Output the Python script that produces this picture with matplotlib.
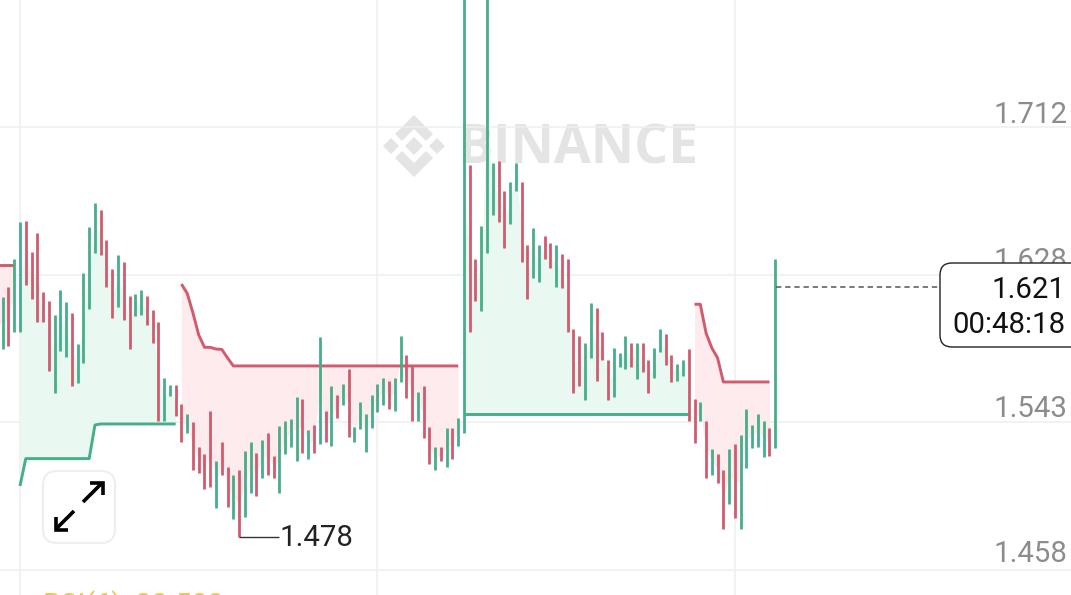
import matplotlib
matplotlib.use("Agg")
import matplotlib.pyplot as plt
from matplotlib.patches import FancyBboxPatch, Polygon
import numpy as np

plt.rcParams['font.family'] = ['Roboto', 'DejaVu Sans']

HIGHS = [1.6152,1.6213,1.6372,1.6583,1.6592,1.6414,1.6523,1.6182,1.6131,1.6050,
         1.6194,1.6123,1.6064,1.5882,1.6293,1.6554,1.6692,1.6653,1.6481,1.6313,
         1.6393,1.6353,1.6161,1.6171,1.6194,1.6161,1.6079,1.6012,1.5691,1.5649,
         1.5649,1.5540,1.5482,1.5439,1.5291,1.5253,1.5501,1.5212,1.5323,1.5180,
         1.5132,1.5161,1.5272,1.5323,1.5260,1.5333,1.5371,1.5241,1.5413,1.5442,
         1.5452,1.5581,1.5570,1.5390,1.5421,1.5922,1.5501,1.5643,1.5591,1.5653,
         1.5739,1.5409,1.5553,1.5480,1.5591,1.5653,1.5691,1.5672,1.5687,1.5932,
         1.5823,1.5763,1.5610,1.5643,1.5409,1.5291,1.5291,1.5400,1.5400,1.5461,
         1.8000,1.6911,1.6372,1.6561,1.8000,1.6921,1.6934,1.6764,1.6812,1.6925,
         1.6812,1.6452,1.6552,1.6452,1.6504,1.6462,1.6452,1.6402,1.6372,1.5970,
         1.5932,1.5891,1.6121,1.6092,1.5951,1.5792,1.5859,1.5831,1.5930,1.5891,
         1.5891,1.5891,1.5792,1.5859,1.5970,1.5941,1.5821,1.5769,1.5792,1.5853,
         1.5570,1.5551,1.5440,1.5281,1.5253,1.5161,1.5281,1.5310,1.5360,1.5511,
         1.5419,1.5482,1.5442,1.5402,1.6370]
LOWS = [1.5853,1.5872,1.5955,1.5951,1.6223,1.6142,1.6012,1.6012,1.5731,1.5604,
        1.5842,1.5811,1.5643,1.5662,1.5773,1.6083,1.6405,1.6395,1.6213,1.6032,
        1.6095,1.6022,1.5853,1.6045,1.6050,1.5993,1.5891,1.5444,1.5444,1.5586,
        1.5472,1.5323,1.5375,1.5161,1.5142,1.5050,1.5061,1.4941,1.5132,1.4950,
        1.4879,1.4778,1.4889,1.5030,1.5011,1.5113,1.5132,1.5113,1.5030,1.5251,
        1.5294,1.5212,1.5257,1.5222,1.5260,1.5310,1.5323,1.5300,1.5461,1.5534,
        1.5352,1.5323,1.5394,1.5262,1.5404,1.5492,1.5534,1.5511,1.5501,1.5664,
        1.5572,1.5442,1.5442,1.5343,1.5193,1.5161,1.5212,1.5180,1.5222,1.5300,
        1.5371,1.5955,1.6133,1.6073,1.6405,1.6624,1.6583,1.6433,1.6573,1.6764,
        1.6353,1.6144,1.6265,1.6242,1.6372,1.6322,1.6213,1.6204,1.5955,1.5601,
        1.5643,1.5562,1.5802,1.5672,1.5792,1.5562,1.5581,1.5754,1.5742,1.5754,
        1.5681,1.5722,1.5601,1.5691,1.5836,1.5763,1.5664,1.5673,1.5702,1.5442,
        1.5314,1.5442,1.5113,1.5132,1.5084,1.4824,1.4964,1.4884,1.4824,1.5170,
        1.5285,1.5294,1.5234,1.5243,1.5285]
DIRECTION = ("grggrrrrrg" "ggrggggrrr" "grrggrrrgg" "rrgrrrrgrr" "grggrgrrgg"
             "ggrgrgrgrg" "rggggggrgg" "rrgrrgrgrg" "grrgggrrgg" "rrggrrgrrr"
             "rggrrrgggr" "grrggrrggr" "rgrgrrgrgg" "gggrg")

TREND_A = [1.6337] * 3
TREND_B = [1.5069] + [1.5226] * 12 + [1.5419] + [1.5425] * 14
TREND_C = [1.6228, 1.6175, 1.6062, 1.5936, 1.5865, 1.5865, 1.5855, 1.5853, 1.5804] + [1.5758] * 40
TREND_D = [1.5482] * 40
TREND_E = [1.6112, 1.6112, 1.5947, 1.5861, 1.5804] + [1.5666] * 9
TREND_STARTS = [0, 3, 31, 80, 120]
TREND_KINDS = ["r", "g", "r", "g", "r"]

GRID_PRICES = [1.7130, 1.6280, 1.5436, 1.4587]
GRID_CANDLES = [3, 65, 127]
PRICE_LABELS = ["1.712", "1.628", "1.543", "1.458"]
LAST_PRICE = 1.6211
LOW_PRICE = 1.4778

GREEN, RED = "#45AE8A", "#D15B6E"
GFILL, RFILL = "#E9F9F2", "#FEEBEE"
GRIDC = "#EFEFEF"

fig = plt.figure(figsize=(10.71, 5.95), dpi=100)
ax = fig.add_axes([0, 0, 1, 1])
ax.set_xlim(-0.468, 185.3)
ax.set_ylim(1.44432, 1.78585)
ax.axis("off")

# pixel overlay for the interface furniture
ui = fig.add_axes([0, 0, 1, 1], zorder=5)
ui.set_xlim(0, 1071)
ui.set_ylim(595, 0)
ui.axis("off")
ui.patch.set_alpha(0)

ax.hlines(GRID_PRICES, -1, 186, color=GRIDC, lw=1.1, zorder=1)
ax.vlines(GRID_CANDLES, 1.44, 1.80, color=GRIDC, lw=1.1, zorder=1)

# watermark
wm = "#E4E4E4"
ax_wm = fig.add_axes([0, 0, 1, 1], zorder=-1)
ax_wm.set_xlim(0, 1071)
ax_wm.set_ylim(595, 0)
ax_wm.axis("off")
cx, cy = 414, 146
for pts in [[(0, -9), (9, 0), (0, 9), (-9, 0)],
            [(-31, 0), (-23, -8), (-15, 0), (-23, 8)],
            [(31, 0), (23, -8), (15, 0), (23, 8)],
            [(0, -31), (19, -12), (12, -5), (0, -17), (-12, -5), (-19, -12)],
            [(0, 31), (19, 12), (12, 5), (0, 17), (-12, 5), (-19, 12)]]:
    ax_wm.add_patch(Polygon([(cx + a, cy + b) for a, b in pts], closed=True, color=wm, lw=0))
ax_wm.text(457, 164, "BINANCE", fontsize=38.5, fontweight="bold", color=wm,
           ha="left", va="baseline", family=["Open Sans", "DejaVu Sans"])

hl2 = (np.array(HIGHS) + np.array(LOWS)) / 2
for start, kind, vals in zip(TREND_STARTS, TREND_KINDS,
                             [TREND_A, TREND_B, TREND_C, TREND_D, TREND_E]):
    idx = np.arange(start, start + len(vals))
    col = GREEN if kind == "g" else RED
    fc = GFILL if kind == "g" else RFILL
    xs, ys, edge = idx, np.array(vals), hl2[idx]
    if start == 0:
        xs = np.r_[-1, xs]; ys = np.r_[vals[0], ys]; edge = np.r_[edge[0], edge]
    ax.fill_between(xs, ys, edge, color=fc, lw=0, zorder=2)
    ax.plot(xs, ys, color=col, lw=2.1, zorder=3, solid_capstyle="butt", solid_joinstyle="round")

x = np.arange(len(HIGHS))
cols = [GREEN if d == "g" else RED for d in DIRECTION]
ax.vlines(x, LOWS, HIGHS, colors=cols, lw=2.0, zorder=4)

# price labels
LABEL_Y = [115, 261, 409, 554]
for s, y in zip(PRICE_LABELS, LABEL_Y):
    ui.text(1067, y, s, fontsize=21.2, color="#8C8C8C", ha="right", va="center", zorder=1)

# last price line + box
ax.hlines(LAST_PRICE, x[-1] + 0.2, 165, color="#555555", lw=1.1, linestyles=(0, (3.5, 2.5)), zorder=4)
box = FancyBboxPatch((951, 274), 140, 62, boxstyle="round,pad=11,rounding_size=12",
                     fc="white", ec="#222222", lw=1.0, zorder=2)
ui.add_patch(box)
ui.text(1066, 290, f"{LAST_PRICE:.3f}", fontsize=21.2, color="#111111", ha="right", va="center", zorder=3)
ui.text(1066, 325, "00:48:18", fontsize=21.2, color="#111111", ha="right", va="center", zorder=3)

# low marker
ax.hlines(LOW_PRICE, x[41], 48, color="#333333", lw=1.0, zorder=4)
ui.text(280, 538, f"{LOW_PRICE:.3f}", fontsize=21.2, color="#222222", ha="left", va="center", zorder=3)

# expand button
ui.add_patch(FancyBboxPatch((54, 482), 50, 50, boxstyle="round,pad=11,rounding_size=14",
                            fc="white", ec="#EEEEEE", lw=1.5, zorder=2))
for xs, ys in [([83, 102], [502, 483]), ([90, 102.5, 102.5], [483, 483, 495]),
               ([74, 56], [511, 529]), ([56, 56, 68], [517, 529.5, 529.5])]:
    ui.plot(xs, ys, color="black", lw=2.6, solid_capstyle="butt", solid_joinstyle="miter", zorder=3)

# clipped indicator text
ui.text(43, 590, "RSI(6)  33.503", fontsize=20.6, color="#E9C85F", ha="left", va="top", zorder=3, clip_on=True)

fig.savefig("out.png", dpi=100)
